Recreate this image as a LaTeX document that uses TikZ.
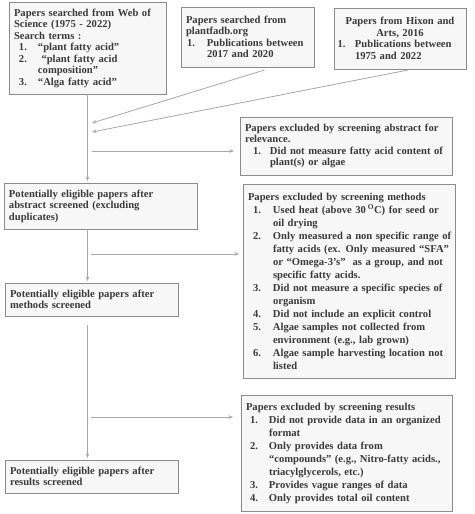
\documentclass[tikz,border=0pt]{standalone}
\usepackage{fontspec}
\setmainfont{Liberation Serif}
\usetikzlibrary{arrows.meta,calc}
\definecolor{txt}{HTML}{3A3A3A}
\definecolor{bord}{HTML}{8C8C8C}
\definecolor{boxfill}{HTML}{F7F7F7}
\definecolor{lin}{HTML}{A8A8A8}
\newlength\numind
\newlength\txtind
\newcommand\lhead[1]{\noindent\mbox{#1}\par}
\newcommand\litem[2]{\noindent\hspace*{\numind}\makebox[\dimexpr\txtind-\numind\relax][l]{#1}\mbox{#2}\par}
\newcommand\lcont[1]{\noindent\hspace*{\txtind}\mbox{#1}\par}
\tikzset{
  box/.style={draw=bord, fill=boxfill, line width=1pt, anchor=north west, inner xsep=5pt, inner ysep=2pt, outer sep=0pt, align=left, text=txt, font=\bfseries\fontsize{10.6}{11.5}\selectfont},
  tallbox/.style={box, font=\bfseries\fontsize{10.6}{13}\selectfont},
  lst/.style 2 args={execute at begin node={\setlength\numind{#1}\setlength\txtind{#2}}},
  arr/.style={draw=lin, line width=0.8pt, -{Stealth[length=4.5pt,width=3.5pt]}}
}
\begin{document}
\begin{tikzpicture}[x=1pt,y=-1pt]
\useasboundingbox[fill=white] (0,0) rectangle (474,514);
\node[box, lst={5pt}{24pt}, minimum width=157pt, minimum height=92pt, text width=147pt] (b1) at (9,2) {%
\lhead{Papers searched from Web of}\lhead{Science (1975 - 2022)}\lhead{Search terms :}%
\litem{1.}{“plant fatty acid”}\litem{2.}{\ “plant fatty acid}\lcont{composition”}\litem{3.}{“Alga fatty acid”}};
\node[box, lst={1pt}{21pt}, minimum width=133pt, minimum height=60pt, text width=123pt] (b2) at (181,7) {%
\lhead{Papers searched from}\lhead{plantfadb.org}\litem{1.}{Publications between}\lcont{2017 and 2020}};
\node[box, lst={-1.5pt}{16pt}, minimum width=132pt, minimum height=61pt, text width=122pt] (b3) at (334,8) {%
{\centering Papers from Hixon and\\ Arts, 2016\par}\litem{1.}{Publications between}\lcont{1975 and 2022}};
\node[box, lst={8pt}{25pt}, minimum width=212pt, minimum height=58pt, text width=202pt] (b5) at (240,117) {%
\lhead{Papers excluded by screening abstract for}\lhead{relevance.}\litem{1.}{Did not measure fatty acid content of}\lcont{plant(s) or algae}};
\node[box, minimum width=193pt, minimum height=46pt, text width=183pt] (b4) at (4,183) {%
\lhead{Potentially eligible papers after}\lhead{abstract screened (excluding}\lhead{duplicates)}};
\node[tallbox, lst={5pt}{25pt}, minimum width=212pt, minimum height=194pt, text width=202pt] (b6) at (243,184) {%
\lhead{Papers excluded by screening methods}%
\litem{1.}{Used heat (above 30\,\textsuperscript{O}C) for seed or}\lcont{oil drying}%
\litem{2.}{Only measured a non specific range of}\lcont{fatty acids (ex. Only measured “SFA”}\lcont{or “Omega-3’s”\ \ as a group, and not}\lcont{specific fatty acids.}%
\litem{3.}{Did not measure a specific species of}\lcont{organism}%
\litem{4.}{Did not include an explicit control}%
\litem{5.}{Algae samples not collected from}\lcont{environment (e.g., lab grown)}%
\litem{6.}{Algae sample harvesting location not}\lcont{listed}};
\node[box, minimum width=173pt, minimum height=33pt, text width=163pt] (b7) at (5,283) {%
\lhead{Potentially eligible papers after}\lhead{methods screened}};
\node[tallbox, lst={4pt}{23pt}, minimum width=211pt, minimum height=116pt, text width=201pt] (b9) at (241,395) {%
\lhead{Papers excluded by screening results}%
\litem{1.}{Did not provide data in an organized}\lcont{format}%
\litem{2.}{Only provides data from}\lcont{“compounds” (e.g., Nitro-fatty acids.,}\lcont{triacylglycerols, etc.)}%
\litem{3.}{Provides vague ranges of data}%
\litem{4.}{Only provides total oil content}};
\node[box, minimum width=173pt, minimum height=33pt, text width=163pt] (b8) at (5,460) {%
\lhead{Potentially eligible papers after}\lhead{results screened}};
\coordinate (m1) at (92,123);
\coordinate (m2) at (92,132);
\coordinate (s1) at (92,151);
\coordinate (s2) at (91,254);
\coordinate (s3) at (91,417);
\draw[arr, shorten >=2pt] (b1.south) -- (b1.south |- b4.north);
\draw[arr] ([xshift=17pt,yshift=-3pt]b2.south) -- (m1);
\draw[arr] ([xshift=8pt,yshift=-1pt]b3.south) -- (m2);
\draw[arr, shorten >=6pt] (s1) -- (s1 -| b5.west);
\draw[arr, shorten >=2pt] (b1.south |- b4.south) -- (b1.south |- b7.north);
\draw[arr, shorten >=4pt] (s2) -- (s2 -| b6.west);
\draw[arr, shorten <=9pt, shorten >=2pt] (b1.south |- b7.south) -- (b1.south |- b8.north);
\draw[arr, shorten >=8pt] (s3) -- (s3 -| b9.west);
\end{tikzpicture}
\end{document}
